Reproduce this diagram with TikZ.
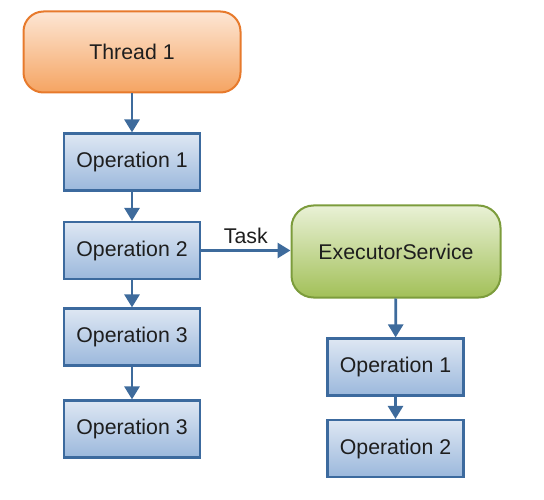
\documentclass[tikz,border=0pt]{standalone}
\usepackage{fontspec}
\setmainfont{Liberation Sans}
\usepackage{tikz}
\usetikzlibrary{positioning, arrows.meta, shapes, calc}
\usepackage{xcolor}

\definecolor{orangeTop}{HTML}{FDE6D4}
\definecolor{orangeBot}{HTML}{F5A462}
\definecolor{orangeLine}{HTML}{E77A2C}
\definecolor{blueTop}{HTML}{DEE7F3}
\definecolor{blueBot}{HTML}{9BB8DC}
\definecolor{blueLine}{HTML}{3C6A9E}
\definecolor{greenTop}{HTML}{E9F1D6}
\definecolor{greenBot}{HTML}{A2C058}
\definecolor{greenLine}{HTML}{7C9C3C}
\definecolor{arrowCol}{HTML}{3E6B9C}
\definecolor{textCol}{HTML}{1E1E1E}

\begin{document}
\begin{tikzpicture}[x=1pt, y=-1pt,
    every node/.style={font=\fontsize{21.3}{25}\selectfont, text=textCol},
    threadbox/.style={draw=orangeLine, line width=2pt, rounded corners=20pt,
      top color=orangeTop, bottom color=orangeBot,
      minimum width=217pt, minimum height=81pt},
    execbox/.style={draw=greenLine, line width=2pt, rounded corners=22pt,
      top color=greenTop, bottom color=greenBot,
      minimum width=209pt, minimum height=92pt},
    opbox/.style={draw=blueLine, line width=2.2pt,
      top color=blueTop, bottom color=blueBot,
      minimum width=136pt, minimum height=57pt},
    flow/.style={draw=arrowCol, line width=2.8pt,
      -{Triangle[width=15pt, length=13pt]}}]
    \useasboundingbox (0,0) rectangle (544,500);
    % Thread und seine Operationen
    \node[threadbox] (thread) at (132,52) {Thread 1};
    \node[opbox] (op1) at (132,162) {Operation 1};
    \node[opbox] (op2) at (132,250.5) {Operation 2};
    \node[opbox] (op3) at (132,337) {Operation 3};
    \node[opbox] (op4) at (132,429) {Operation 3};
    % Executor
    \node[execbox] (exec) at (396,251.5) {ExecutorService};
    \node[opbox] (eop1) at (395.5,367) {Operation 1};
    \node[opbox] (eop2) at (395.5,448.5) {Operation 2};
    % Pfeile
    \draw[flow] (thread) -- (op1);
    \foreach \a/\b in {op1/op2, op2/op3, op3/op4, exec/eop1, eop1/eop2}
      \draw[flow] (\a) -- (\b);
    \draw[flow] (op2.east) -- node[above, inner sep=5pt] {Task} (exec.west |- op2.east);
\end{tikzpicture}
\end{document}
